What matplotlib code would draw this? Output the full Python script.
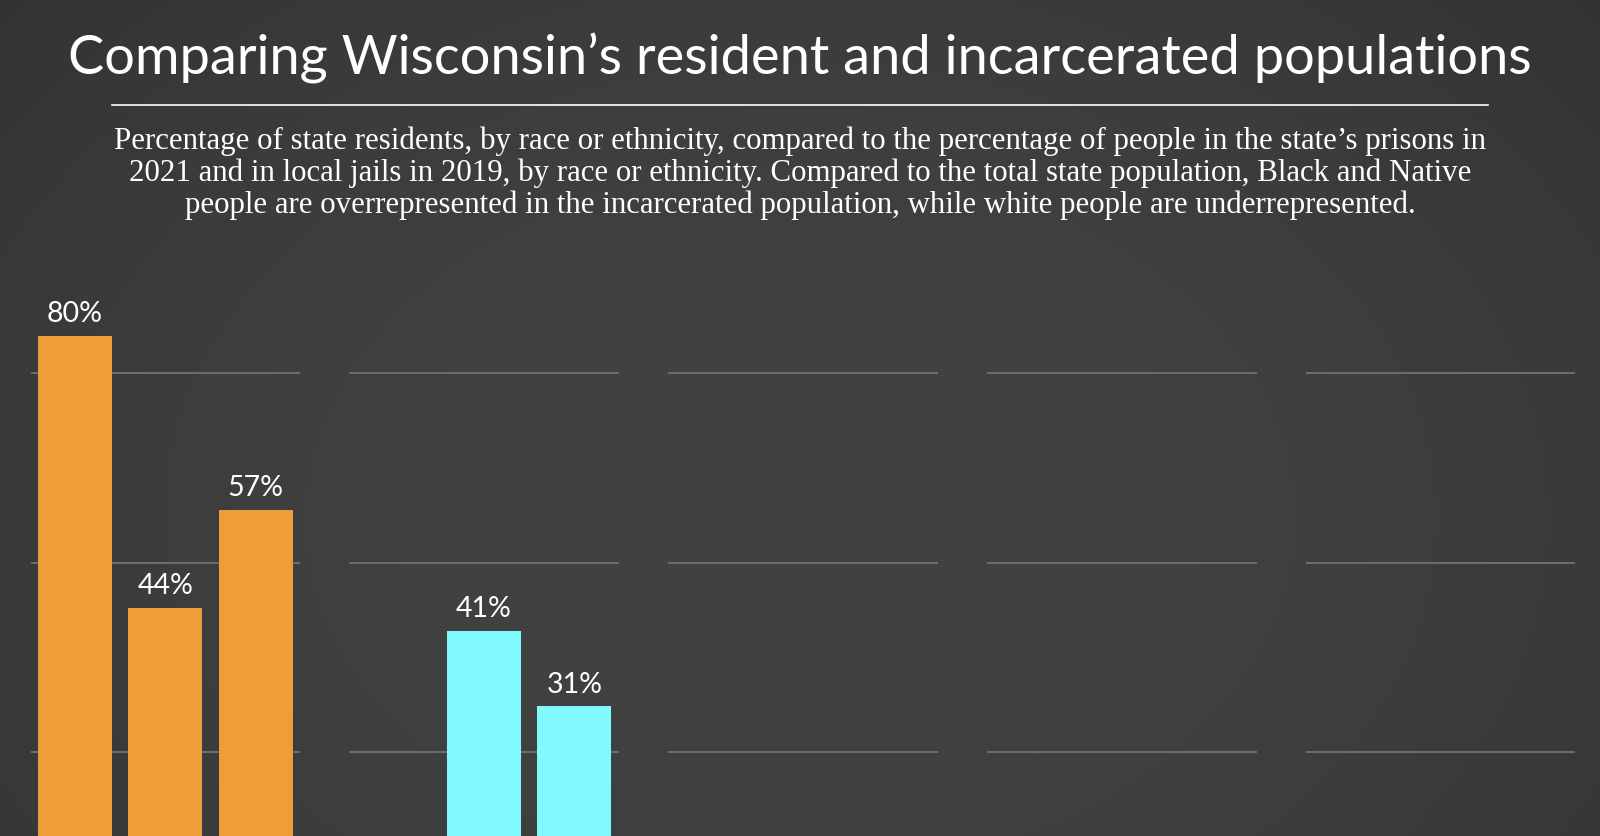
import numpy as np
import matplotlib
matplotlib.use("Agg")
import matplotlib.pyplot as plt

# data (bars below the crop are estimates)
groups = ["White", "Black", "Hispanic", "Native", "Asian"]
resident = [80, 6, 7, 1, 3]
prison = [44, 41, 8, 4, 1]
jail = [57, 31, 7, 3, 1]
colors = ["#EF9D38", "#82FAFD", "#C58BE8", "#9BE37A", "#F2D45C"]

title = "Comparing Wisconsin\u2019s resident and incarcerated populations"
subtitle = ("Percentage of state residents, by race or ethnicity, compared to the percentage of people in the state\u2019s prisons in\n"
            "2021 and in local jails in 2019, by race or ethnicity. Compared to the total state population, Black and Native\n"
            "people are overrepresented in the incarcerated population, while white people are underrepresented.")

W, H = 1600, 836
fig = plt.figure(figsize=(W / 100, H / 100), dpi=100)

# dark background with a soft vignette
yy, xx = np.mgrid[0:H, 0:W]
r = np.sqrt(((xx - W * 0.5) / (W * 0.62)) ** 2 + ((yy - H * 0.62) / (H * 0.85)) ** 2)
shade = 0.258 - 0.05 * np.clip(r, 0, 1.2) ** 2.2
bg = np.dstack([shade, shade, shade])
fig.figimage(bg, xo=0, yo=0, origin="upper", zorder=-10)

fig.text(0.5, 1 - 74 / H, title, ha="center", va="baseline", color="white",
         fontsize=39, family="Lato")
fig.add_artist(plt.Line2D([112 / W, 1488 / W], [1 - 105 / H, 1 - 105 / H],
                          color="white", lw=1.2))
fig.text(0.5, 1 - 173 / H, subtitle, ha="center", va="center", color="white",
         fontsize=22.2, family="Liberation Serif", linespacing=1.12)

# five small panels, bottoms run past the lower edge of the figure
left0, pitch, width = 30.6, 318.8, 269.5
bottom_px, top_px = 941.1, 184.3
for i, g in enumerate(groups):
    ax = fig.add_axes([(left0 + i * pitch) / W, 1 - bottom_px / H,
                       width / W, (bottom_px - top_px) / H])
    ax.patch.set_alpha(0)
    vals = [resident[i], prison[i], jail[i]]
    ax.bar(range(3), vals, width=0.82, color=colors[i], zorder=2)
    for x, v in enumerate(vals):
        if v < 14:  # label sits below the cropped bottom edge
            continue
        ax.annotate(f"{v}%", (x, v), xytext=(0, 10), textcoords="offset points",
                    ha="center", va="baseline", color="white", fontsize=20.5,
                    family="Lato")
    ax.set_xlim(-0.492, 2.494)
    ax.set_ylim(0, 100)
    ax.set_yticks([25, 50, 75])
    ax.grid(axis="y", color="#6e6e6e", lw=1.4, zorder=0)
    ax.tick_params(length=0, labelleft=False, labelbottom=False)
    for s in ax.spines.values():
        s.set_visible(False)

fig.savefig("out.png", dpi=100)
